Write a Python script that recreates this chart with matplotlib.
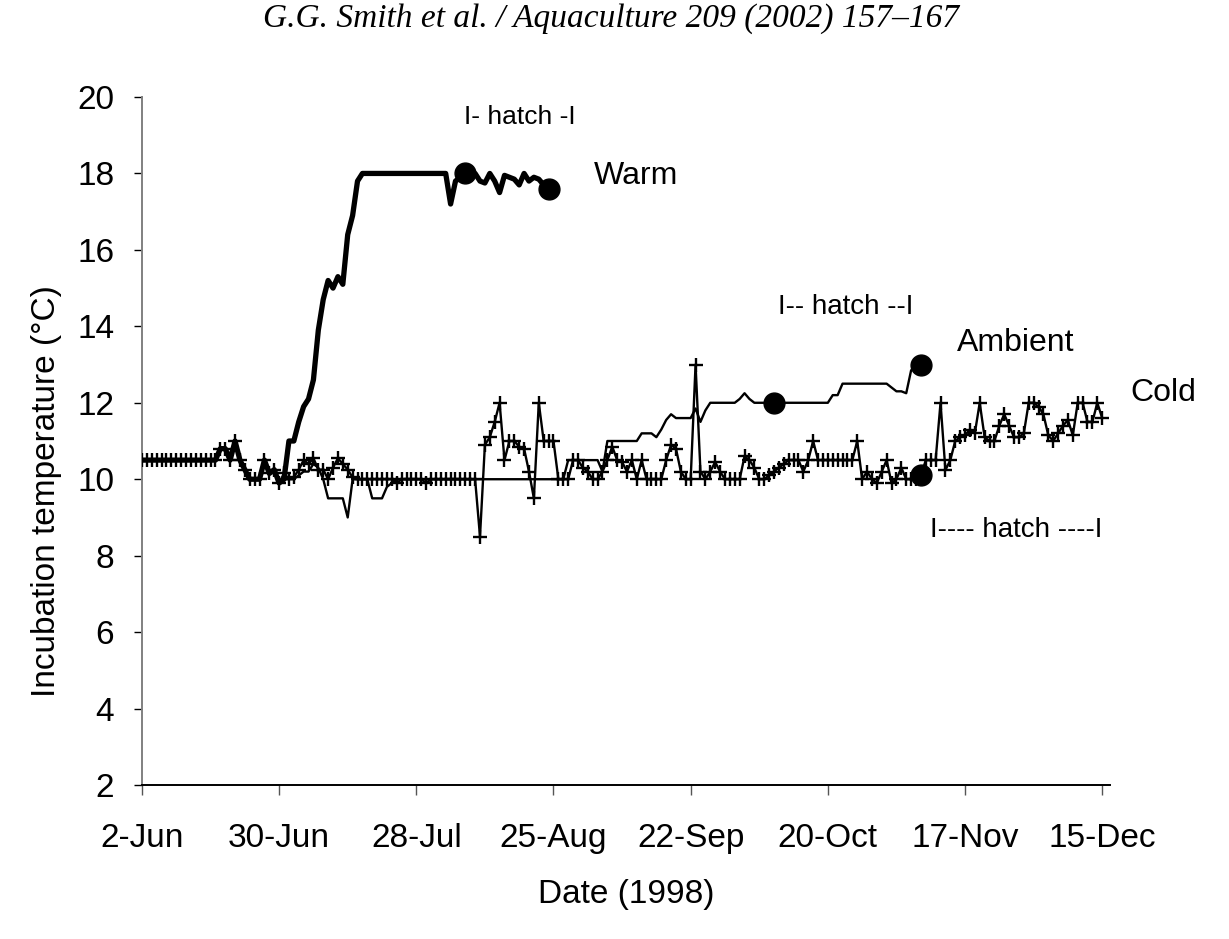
import numpy as np
import pandas as pd
import matplotlib
matplotlib.use("Agg")
import matplotlib.pyplot as plt

plt.rcParams["font.family"] = ["Liberation Sans", "DejaVu Sans"]

# daily temperatures from 2-Jun-1998
start_date = "1998-06-02"

# first 29 days are shared by all three incubators
june_temps = [10.5, 10.5, 10.5, 10.5, 10.5, 10.5, 10.5, 10.5, 10.5, 10.5,
              10.5, 10.5, 10.5, 10.5, 10.5, 10.5, 10.8, 10.8, 10.5, 11.0,
              10.5, 10.25, 10.0, 10.0, 10.0, 10.5, 10.15, 10.25, 9.9]

warm_temps = june_temps + [
    10.0, 11.0, 11.0, 11.5, 11.9, 12.1, 12.6, 13.9, 14.7, 15.2,
    15.0, 15.3, 15.1, 16.4, 16.9, 17.8, 18.0, 18.0, 18.0, 18.0,
    18.0, 18.0, 18.0, 18.0, 18.0, 18.0, 18.0, 18.0, 18.0, 18.0,
    18.0, 18.0, 18.0, 18.0, 17.2, 17.8, 17.9, 18.0, 17.9, 18.0,
    17.8, 17.75, 18.0, 17.8, 17.5, 17.95, 17.9, 17.85, 17.7, 18.0,
    17.8, 17.9, 17.85, 17.7, 17.6]

ambient_temps = june_temps + [
    10.0, 10.0, 10.0, 10.1, 10.2, 10.2, 10.4, 10.3, 10.0, 9.5,
    9.5, 9.5, 9.5, 9.0, 10.0, 10.0, 10.0, 10.0, 9.5, 9.5,
    9.5, 9.8, 9.9, 10.0, 10.0, 10.0, 10.0, 10.0, 10.0, 10.0,
    10.0, 10.0, 10.0, 10.0, 10.0, 10.0, 10.0, 10.0, 10.0, 10.0,
    10.0, 10.0, 10.0, 10.0, 10.0, 10.0, 10.0, 10.0, 10.0, 10.0,
    10.0, 10.0, 10.0, 10.0, 10.0, 10.0, 10.0, 10.0, 10.5, 10.5,
    10.5, 10.5, 10.5, 10.5, 10.5, 10.2, 11.0, 11.0, 11.0, 11.0,
    11.0, 11.0, 11.0, 11.2, 11.2, 11.2, 11.1, 11.3, 11.55, 11.7,
    11.6, 11.6, 11.6, 11.6, 11.85, 11.5, 11.8, 12.0, 12.0, 12.0,
    12.0, 12.0, 12.0, 12.1, 12.25, 12.1, 12.0, 12.0, 12.0, 12.0,
    12.0, 12.0, 12.0, 12.0, 12.0, 12.0, 12.0, 12.0, 12.0, 12.0,
    12.0, 12.0, 12.2, 12.2, 12.5, 12.5, 12.5, 12.5, 12.5, 12.5,
    12.5, 12.5, 12.5, 12.5, 12.4, 12.3, 12.3, 12.25, 12.85, 12.95,
    13.0]

cold_temps = june_temps + [
    10.15, 10.0, 10.05, 10.25, 10.5, 10.4, 10.55, 10.25, 10.25, 10.0,
    10.3, 10.55, 10.4, 10.25, 10.05, 10.0, 10.0, 10.0, 10.0, 10.0,
    10.0, 10.0, 10.0, 9.9, 10.0, 10.0, 10.0, 10.0, 10.0, 9.9,
    10.0, 10.0, 10.0, 10.0, 10.0, 10.0, 10.0, 10.0, 10.0, 10.0,
    8.5, 10.9, 11.1, 11.5, 12.0, 10.5, 11.0, 11.0, 10.85, 10.8,
    10.2, 9.5, 12.0, 11.0, 11.0, 11.0, 10.0, 10.0, 10.0, 10.5,
    10.5, 10.3, 10.2, 10.0, 10.0, 10.2, 10.5, 10.85, 10.5, 10.45,
    10.2, 10.5, 10.0, 10.5, 10.0, 10.0, 10.0, 10.0, 10.5, 10.9,
    10.8, 10.2, 10.0, 10.0, 13.0, 10.2, 10.0, 10.2, 10.45, 10.2,
    10.0, 10.0, 10.0, 10.0, 10.6, 10.5, 10.3, 10.0, 10.0, 10.1,
    10.2, 10.3, 10.4, 10.5, 10.5, 10.5, 10.2, 10.5, 11.0, 10.5,
    10.5, 10.5, 10.5, 10.5, 10.5, 10.5, 10.5, 11.0, 10.0, 10.2,
    10.0, 9.9, 10.2, 10.5, 9.9, 10.0, 10.3, 10.0, 10.0, 10.0,
    10.1, 10.5, 10.5, 10.5, 12.0, 10.24, 10.5, 11.0, 11.1, 11.15,
    11.3, 11.2, 12.0, 11.1, 11.0, 11.0, 11.4, 11.7, 11.4, 11.1,
    11.1, 11.2, 12.0, 12.0, 11.9, 11.7, 11.15, 11.0, 11.2, 11.4,
    11.55, 11.15, 12.0, 12.0, 11.5, 11.5, 12.0, 11.6]

# hatch start / end (day index of the filled circles)
warm_hatch = [66, 83]
ambient_hatch = [129, 159]
cold_hatch = [159]

tick_dates = ["1998-06-02", "1998-06-30", "1998-07-28", "1998-08-25",
              "1998-09-22", "1998-10-20", "1998-11-17", "1998-12-15"]
tick_labels = ["2-Jun", "30-Jun", "28-Jul", "25-Aug",
               "22-Sep", "20-Oct", "17-Nov", "15-Dec"]
y_ticks = [2, 4, 6, 8, 10, 12, 14, 16, 18, 20]

t0 = pd.Timestamp(start_date)
tick_pos = [(pd.Timestamp(d) - t0).days for d in tick_dates]

fig = plt.figure(figsize=(12.29, 9.39), dpi=100)
ax = fig.add_axes([0.1155, 0.164, 0.7877, 0.7327])

x_cold = np.arange(len(cold_temps))
x_amb = np.arange(len(ambient_temps))
x_warm = np.arange(len(warm_temps))
cold = np.array(cold_temps)
amb = np.array(ambient_temps)
warm = np.array(warm_temps)

ax.plot(x_cold, cold, color="black", lw=1.7, marker="+", ms=10, mew=1.7, zorder=3)
ax.plot(x_amb, amb, color="black", lw=1.7, zorder=4)
ax.plot(x_warm, warm, color="black", lw=3.8, solid_joinstyle="round", zorder=5)

for xs, ys, idx in [(x_warm, warm, warm_hatch), (x_amb, amb, ambient_hatch),
                    (x_cold, cold, cold_hatch)]:
    ax.plot(xs[idx], ys[idx], "o", color="black", ms=15, zorder=6)

ax.set_xlim(0, 197.6)
ax.set_ylim(2, 20)
ax.set_xticks(tick_pos)
ax.set_xticklabels(tick_labels)
ax.set_yticks(y_ticks)
ax.tick_params(axis="x", direction="out", length=7, width=1, pad=20, labelsize=24,
               color="#555555")
ax.tick_params(axis="y", direction="out", length=6, width=1, pad=14, labelsize=24)

for side in ["top", "right"]:
    ax.spines[side].set_visible(False)
ax.spines["left"].set_color("#808080")
ax.spines["left"].set_linewidth(1.4)
ax.spines["bottom"].set_color("black")
ax.spines["bottom"].set_linewidth(1.4)

ax.set_ylabel("Incubation temperature (°C)", fontsize=24)
ax.yaxis.set_label_coords(-0.083, 0.427)
ax.set_xlabel("Date (1998)", fontsize=24, labelpad=18)

# annotations
ax.text(77.1, 19.48, "I- hatch -I", fontsize=19, ha="center", va="center")
ax.text(92.3, 17.93, "Warm", fontsize=23, ha="left", va="center")
ax.text(143.6, 14.5, "I-- hatch --I", fontsize=20, ha="center", va="center")
ax.text(178.4, 13.56, "Ambient", fontsize=23, ha="center", va="center")
ax.text(208.4, 12.26, "Cold", fontsize=23, ha="center", va="center", clip_on=False)
ax.text(178.5, 8.67, "I---- hatch ----I", fontsize=20, ha="center", va="center")

fig.text(0.497, 0.997, "G.G. Smith et al. / Aquaculture 209 (2002) 157–167",
         family="Liberation Serif", style="italic", fontsize=24,
         ha="center", va="top")

fig.savefig("out.png", dpi=100, facecolor="white")
